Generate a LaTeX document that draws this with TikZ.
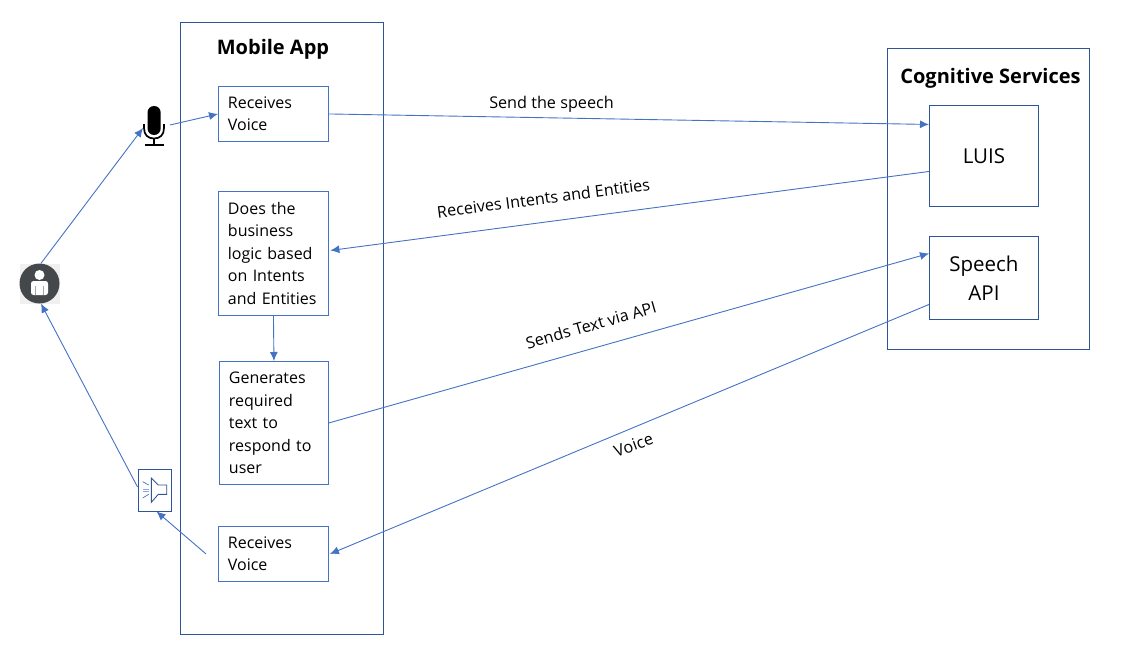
\documentclass[tikz,border=0pt]{standalone}
\usepackage{fontspec}
\setmainfont{Open Sans}
\usetikzlibrary{arrows.meta}
\definecolor{boxblue}{HTML}{2F5597}
\definecolor{lineblue}{HTML}{4472C4}
\definecolor{userdark}{HTML}{45484A}
\tikzset{
  panel/.style={draw=boxblue,line width=.9pt,anchor=north west,inner sep=0pt},
  stepbox/.style={draw=lineblue,line width=.9pt,anchor=north west,align=left,inner xsep=9.5pt,inner ysep=0pt,font=\fontsize{16}{22.5}\selectfont},
  servicebox/.style={draw=boxblue,line width=.9pt,anchor=north west,align=center,inner sep=0pt,font=\fontsize{20.5}{29}\selectfont},
  titletext/.style={font=\fontsize{20}{24}\bfseries\selectfont},
  flow/.style={draw=lineblue,line width=.9pt,-{Latex[length=9pt,width=8pt]}},
  flowtext/.style={font=\fontsize{16.2}{20}\selectfont,inner sep=0pt}
}
\begin{document}
\begin{tikzpicture}[x=1pt,y=-1pt]
  \useasboundingbox (0,0) rectangle (1144,645);

  \node[panel,minimum width=203pt,minimum height=612pt] (app) at (180,22) {};
  \node[titletext] (apptitle) at (273,49) {Mobile App};
  \node[panel,minimum width=202pt,minimum height=301pt] (cognitive) at (887,48) {};
  \node[titletext] (cogtitle) at (990.5,78) {Cognitive Services};

  \node[stepbox,text width=91pt,minimum height=55pt] (recvone) at (218,86) {Receives\\Voice};
  \node[stepbox,text width=91pt,minimum height=124pt] (logic) at (218,191) {Does the\\business\\logic based\\on Intents\\and Entities};
  \node[stepbox,text width=90pt,minimum height=123pt] (gen) at (219,361) {Generates\\required\\text to\\respond to\\user};
  \node[stepbox,text width=91pt,minimum height=55pt] (recvtwo) at (218,526) {Receives\\Voice};

  \node[servicebox,minimum width=109pt,minimum height=101pt] (luis) at (929,105) {LUIS};
  \node[servicebox,text width=107pt,minimum height=83pt,inner xsep=1pt] (speech) at (929,236) {Speech\\API};

  % user
  \node[fill=black!6,minimum size=40pt,inner sep=0pt] (user) at (39.5,283.5) {};
  \fill[userdark] (user.center) circle (20);
  \fill[white] (39.5,275) circle (5);
  \fill[white,rounded corners=2.5pt] (31,281) rectangle (48,295);
  \draw[black!35,line width=.5pt] (35.5,286) -- (35.5,295) (43.5,286) -- (43.5,295);

  % mic
  \node[minimum width=22pt,minimum height=40pt,inner sep=0pt] (mic) at (154,126) {};
  \fill[black,rounded corners=6.5pt] (147.5,106) rectangle (160.7,135);
  \draw[black,line width=1.7pt] (144,124) -- (144,128) .. controls (144,135) and (148,138.5) .. (154,138.5) .. controls (160,138.5) and (164,135) .. (164,128) -- (164,124);
  \draw[black,line width=1.7pt] (154,138.5) -- (154,145) (144.5,145) -- (163.5,145);

  % speaker
  \node[draw=boxblue,line width=.9pt,minimum width=33pt,minimum height=42pt,inner sep=0pt] (spk) at (154.5,490) {};
  \draw[boxblue,line width=.9pt] (151.3,478) -- (158.3,485) -- (166.7,485) -- (166.7,494.3) -- (158.3,494.3) -- (151.3,502.3) -- cycle;
  \draw[lineblue,line width=.7pt] (142.7,481.7) -- (148.7,485) (142.7,498) -- (148.7,494.3);
  \draw[lineblue!60,line width=.7pt] (142.7,489) -- (148.7,489) (142.7,491) -- (148.7,491);

  % connectors
  \path[flow] ([xshift=1.5pt]user.north) -- ([xshift=-11pt,yshift=-2pt]mic.center);
  \path[flow] ([xshift=16pt,yshift=1pt]mic.center) -- (recvone.west);
  \path[flow] (recvone.east) -- ([yshift=31.5pt]luis.west);
  \path[flow] ([yshift=-15.5pt]luis.west) -- ([xshift=1.5pt,yshift=3pt]logic.east);
  \path[flow] (logic.south) -- (gen.north);
  \path[flow] (gen.east) -- ([yshift=24.5pt]speech.west);
  \path[flow] ([yshift=-26.5pt]speech.west) -- ([xshift=1pt]recvtwo.east);
  \path[flow] ([xshift=-12pt]recvtwo.west) -- ([xshift=2pt]spk.south);
  \path[flow] ([yshift=3pt]spk.west) -- ([xshift=1.5pt]user.south);

  % labels
  \node[flowtext] (sendlabel) at (551.5,104.5) {Send the speech};
  \node[flowtext,rotate=7.5] (intentlabel) at (543.5,198) {Receives Intents and Entities};
  \node[flowtext,rotate=16] (textlabel) at (591,325) {Sends Text via API};
  \node[flowtext,rotate=20] (voicelabel) at (633.5,445) {Voice};
\end{tikzpicture}
\end{document}
